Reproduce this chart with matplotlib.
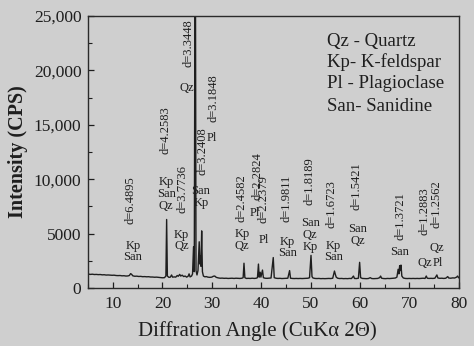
import matplotlib
matplotlib.use("Agg")
import matplotlib.pyplot as plt
from matplotlib.ticker import MultipleLocator, FixedLocator, FixedFormatter

plt.rcParams['font.family'] = ['Liberation Serif', 'DejaVu Serif']

# ---- data ----
two_theta = [5.0, 5.4, 5.8, 6.2, 6.6, 7.0, 7.4, 7.8, 8.2, 8.6, 9.0, 9.4, 9.8, 10.2, 10.6,
             11.0, 11.4, 11.8, 12.2, 12.6, 13.0, 13.3, 13.55, 13.75, 14.0, 14.4, 14.8,
             15.2, 15.6, 16.0, 16.4, 16.8, 17.2, 17.6, 18.0, 18.4, 18.8, 19.2, 19.6,
             20.0, 20.4, 20.7, 20.85, 21.0, 21.3, 21.6, 21.85, 22.05, 22.4, 22.7, 23.0,
             23.2, 23.5, 23.7, 24.0, 24.3, 24.6, 24.9, 25.2, 25.4, 25.6, 25.9, 26.1,
             26.3, 26.45, 26.58, 26.7, 26.8, 27.0, 27.2, 27.45, 27.6, 27.72, 27.8, 27.95,
             28.1, 28.3, 28.6, 28.9, 29.2, 29.6, 30.0, 30.3, 30.6, 30.9, 31.3, 31.7,
             32.1, 32.5, 32.9, 33.3, 33.7, 34.1, 34.5, 34.9, 35.3, 35.7, 36.1, 36.35,
             36.52, 36.7, 37.0, 37.4, 37.8, 38.2, 38.6, 39.0, 39.25, 39.45, 39.6, 39.8,
             39.95, 40.27, 40.45, 40.8, 41.2, 41.6, 42.0, 42.45, 42.65, 43.0, 43.4,
             43.8, 44.2, 44.6, 45.0, 45.4, 45.76, 45.95, 46.3, 46.7, 47.1, 47.5, 47.9,
             48.3, 48.7, 49.1, 49.5, 49.8, 50.1, 50.3, 50.5, 50.9, 51.3, 51.7, 52.1,
             52.5, 52.9, 53.3, 53.7, 54.1, 54.5, 54.85, 55.0, 55.2, 55.5, 55.9, 56.3,
             56.7, 57.1, 57.5, 57.9, 58.3, 58.7, 58.9, 59.3, 59.7, 59.95, 60.15, 60.5,
             60.9, 61.3, 61.7, 62.1, 62.4, 62.8, 63.2, 63.6, 64.0, 64.2, 64.4, 64.8,
             65.2, 65.6, 66.0, 66.4, 66.8, 67.2, 67.5, 67.75, 67.9, 68.06, 68.2, 68.33,
             68.5, 68.8, 69.2, 69.6, 70.0, 70.4, 70.8, 71.2, 71.6, 72.0, 72.4, 72.8,
             73.2, 73.45, 73.65, 74.0, 74.4, 74.8, 75.2, 75.6, 75.8, 76.2, 76.6, 77.0,
             77.4, 77.8, 78.0, 78.4, 78.8, 79.2, 79.6, 79.8, 80.0]
intensity = [1280, 1250, 1270, 1240, 1250, 1230, 1240, 1210, 1220, 1190, 1200, 1180, 1170, 1180, 1150,
             1140, 1150, 1120, 1130, 1100, 1110, 1150, 1320, 1260, 1120, 1080, 1090,
             1060, 1070, 1040, 1050, 1030, 1040, 1010, 1010, 990, 1000, 980, 960,
             940, 950, 1100, 6300, 1100, 980, 1000, 1200, 1000, 1020, 1000, 1150,
             1080, 1250, 1100, 1180, 1050, 1100, 1000, 1080, 1300, 1020, 1100, 1300,
             3800, 1500, 26000, 26000, 1600, 1200, 1600, 4250, 2200, 2900, 2000, 5250,
             1500, 1100, 1030, 1050, 1000, 980, 1000, 1080, 1100, 980, 930, 900,
             910, 890, 900, 880, 890, 900, 880, 900, 890, 880, 900, 950,
             2280, 950, 880, 890, 880, 900, 880, 900, 950, 2200, 1000, 1450,
             1000, 1650, 950, 900, 890, 900, 920, 2800, 950, 900, 880,
             890, 870, 880, 880, 900, 1600, 900, 880, 870, 880, 870, 880,
             870, 880, 890, 900, 950, 3000, 1050, 920, 880, 870, 880, 860,
             870, 860, 870, 880, 870, 900, 1560, 1300, 1000, 900, 870, 880,
             860, 870, 860, 880, 870, 1100, 880, 870, 900, 2360, 950, 880,
             870, 860, 870, 950, 870, 860, 870, 880, 950, 1100, 900, 870,
             860, 880, 870, 880, 900, 920, 1000, 1720, 1300, 2050, 1600, 2110,
             1100, 920, 880, 870, 880, 870, 880, 870, 880, 870, 880, 900,
             880, 1100, 900, 880, 890, 880, 900, 1200, 920, 890, 900, 880,
             900, 1050, 920, 900, 930, 920, 1000, 1100, 950]

d_texts = ["d=6.4895", "d=4.2583", "d=3.7736", "d=3.3448", "d=3.2408", "d=3.1848",
           "d=2.4582", "d=2.2824", "d=2.2379", "d=1.9811", "d=1.8189", "d=1.6723",
           "d=1.5421", "d=1.3721", "d=1.2883", "d=1.2562"]
d_x = [13.45, 20.55, 24.1, 25.3, 28.2, 30.3, 36.1, 39.35, 40.5, 45.2, 49.75, 54.35,
       59.3, 68.2, 73.1, 75.5]
d_y = [5880, 12300, 6900, 20350, 10390, 15290, 6090, 8090, 5940, 6090, 7630, 5490,
       7170, 4410, 4870, 5490]

phase_texts = ["Kp\nSan", "Kp\nSan\nQz", "Kp\nQz", "Qz", "San\nKp", "Pl", "Kp\nQz", "Pl",
               "Pl", "Kp\nSan", "San\nQz\nKp", "Kp\nSan", "San\nQz", "San", "Qz", "Qz", "Pl"]
phase_x = [14.0, 20.75, 23.9, 24.9, 27.8, 30.0, 36.1, 38.8, 40.5, 45.35, 49.95, 54.7,
           59.6, 68.0, 75.65, 73.1, 75.8]
phase_y = [3350, 8640, 4370, 18380, 8390, 13790, 4410, 6870, 4410, 3720, 4870, 3340,
           4870, 3340, 3650, 2270, 2270]

legend_lines = ["Qz - Quartz", "Kp- K-feldspar", "Pl - Plagioclase", "San- Sanidine"]
legend_y = [22270, 20340, 18350, 16300]
legend_x = 53.4

y_ticks = [0, 5000, 10000, 15000, 20000, 25000]
y_tick_labels = ["0", "5000", "10,000", "15,000", "20,000", "25,000"]
x_ticks = [10, 20, 30, 40, 50, 60, 70, 80]

# ---- drawing ----
bg = '#cfcfcf'
ink = '#1e1e1e'
fig = plt.figure(figsize=(4.74, 3.46), dpi=100, facecolor=bg)
ax = fig.add_axes([0.1865, 0.1676, 0.781, 0.786])
ax.set_facecolor(bg)

ax.plot(two_theta, intensity, color=ink, lw=1.0)
ax.set_xlim(5, 80)
ax.set_ylim(0, 25000)

for t, x, y in zip(d_texts, d_x, d_y):
    ax.text(x, y, t, rotation=90, ha='center', va='bottom', fontsize=9, color=ink)
for t, x, y in zip(phase_texts, phase_x, phase_y):
    ax.text(x, y, t, ha='center', va='center', fontsize=9, color=ink, linespacing=0.95)
for t, y in zip(legend_lines, legend_y):
    ax.text(legend_x, y, t, ha='left', va='baseline', fontsize=13.5, color=ink)

ax.yaxis.set_major_locator(FixedLocator(y_ticks))
ax.yaxis.set_major_formatter(FixedFormatter(y_tick_labels))
ax.yaxis.set_minor_locator(MultipleLocator(2500))
ax.xaxis.set_major_locator(FixedLocator(x_ticks))
ax.xaxis.set_minor_locator(MultipleLocator(5))

ax.tick_params(which='both', direction='in', colors=ink, labelcolor=ink,
               top=False, right=False)
ax.tick_params(which='major', length=4, width=0.9, labelsize=12.5)
ax.tick_params(axis='y', which='major', pad=5)
ax.tick_params(axis='x', which='major', pad=6)
ax.tick_params(which='minor', length=3, width=0.8)
for s in ax.spines.values():
    s.set_color('#2a2a2a')
    s.set_linewidth(1.0)

ax.set_xlabel("Diffration Angle (CuKα 2Θ)", fontsize=15, color=ink, va='center')
ax.xaxis.set_label_coords(0.457, -0.157)
ax.set_ylabel("Intensity (CPS)", fontsize=14.5, fontweight='bold', color=ink, va='center')
ax.yaxis.set_label_coords(-0.189, 0.501)

fig.savefig("out.png", dpi=100, facecolor=bg)
